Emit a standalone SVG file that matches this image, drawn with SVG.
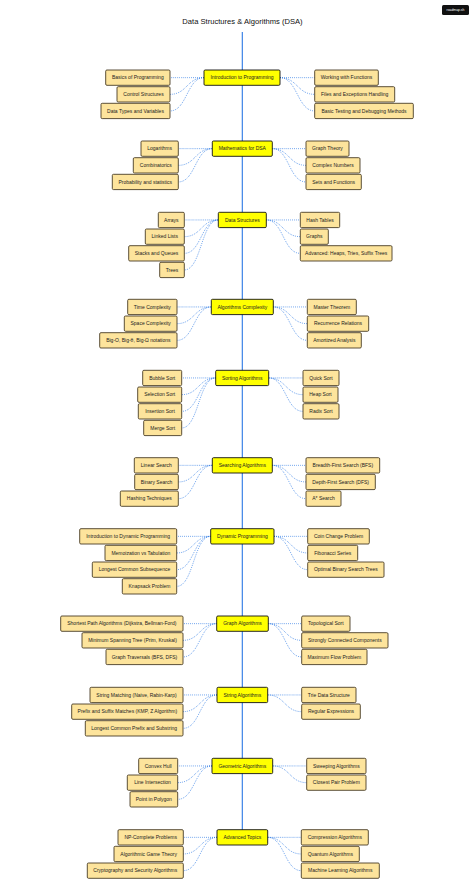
<svg xmlns="http://www.w3.org/2000/svg" width="474" height="890" viewBox="0 0 474 890">
<style>
text{font-family:"Liberation Sans",Arial,sans-serif;font-size:5px;fill:#222;text-anchor:middle}
.t{font-size:7.6px;fill:#111}
.b{font-size:3.4px;fill:#fff}
.m rect{fill:#ffff00;stroke:#111;stroke-width:0.9}
.s rect{fill:#fde49c;stroke:#4a3d26;stroke-width:0.9}
.c path{fill:none;stroke:#2b78e4;stroke-width:0.8;stroke-dasharray:0.8 1.2}
.spine{stroke:#2b78e4;stroke-width:1.1}
</style>
<rect x="0" y="0" width="474" height="890" fill="#fff"/>
<g id="title"><text class="t" x="242.5" y="23.5">Data Structures &amp; Algorithms (DSA)</text></g>
<g id="badge"><rect x="442" y="5" width="27" height="10" rx="1.5" fill="#111"/><text class="b" x="455.5" y="11.2">roadmap.sh</text></g>
<line class="spine" x1="242.3" y1="32" x2="242.3" y2="830"/>
<g id="connectors" class="c">
<!-- S1 -->
<path d="M204 77.65 C187 77.65 187 77.65 170 77.65"/>
<path d="M204 77.65 C187 77.65 187 94.35 170 94.35"/>
<path d="M204 77.65 C187 77.65 187 110.95 170 110.95"/>
<path d="M280 77.65 C297.35 77.65 297.35 77.65 314.7 77.65"/>
<path d="M280 77.65 C297.35 77.65 297.35 94.35 314.7 94.35"/>
<path d="M280 77.65 C297.35 77.65 297.35 110.95 314.7 110.95"/>
<!-- S2 -->
<path d="M212.3 148.65 C195.3 148.65 195.3 148.65 178.3 148.65"/>
<path d="M212.3 148.65 C195.3 148.65 195.3 165.35 178.3 165.35"/>
<path d="M212.3 148.65 C195.3 148.65 195.3 181.95 178.3 181.95"/>
<path d="M272.3 148.65 C289.15 148.65 289.15 148.65 306 148.65"/>
<path d="M272.3 148.65 C289.15 148.65 289.15 165.35 306 165.35"/>
<path d="M272.3 148.65 C289.15 148.65 289.15 181.95 306 181.95"/>
<!-- S3 -->
<path d="M218.3 219.95 C201.3 219.95 201.3 219.95 184.3 219.95"/>
<path d="M218.3 219.95 C201.3 219.95 201.3 236.65 184.3 236.65"/>
<path d="M218.3 219.95 C201.3 219.95 201.3 253.35 184.3 253.35"/>
<path d="M218.3 219.95 C201.3 219.95 201.3 269.95 184.3 269.95"/>
<path d="M266.3 219.95 C283.3 219.95 283.3 219.95 300.3 219.95"/>
<path d="M266.3 219.95 C283.3 219.95 283.3 236.65 300.3 236.65"/>
<path d="M266.3 219.95 C283.3 219.95 283.3 253.35 300.3 253.35"/>
<!-- S4 -->
<path d="M211.3 306.95 C194.15 306.95 194.15 306.95 177 306.95"/>
<path d="M211.3 306.95 C194.15 306.95 194.15 323.65 177 323.65"/>
<path d="M211.3 306.95 C194.15 306.95 194.15 340.35 177 340.35"/>
<path d="M273.3 306.95 C290.3 306.95 290.3 306.95 307.3 306.95"/>
<path d="M273.3 306.95 C290.3 306.95 290.3 323.65 307.3 323.65"/>
<path d="M273.3 306.95 C290.3 306.95 290.3 340.35 307.3 340.35"/>
<!-- S5 -->
<path d="M215.7 377.95 C198.7 377.95 198.7 377.95 181.7 377.95"/>
<path d="M215.7 377.95 C198.7 377.95 198.7 394.65 181.7 394.65"/>
<path d="M215.7 377.95 C198.7 377.95 198.7 411.35 181.7 411.35"/>
<path d="M215.7 377.95 C198.7 377.95 198.7 427.95 181.7 427.95"/>
<path d="M268.7 377.95 C285.85 377.95 285.85 377.95 303 377.95"/>
<path d="M268.7 377.95 C285.85 377.95 285.85 394.65 303 394.65"/>
<path d="M268.7 377.95 C285.85 377.95 285.85 411.35 303 411.35"/>
<!-- S6 -->
<path d="M212.3 465.35 C195.3 465.35 195.3 465.35 178.3 465.35"/>
<path d="M212.3 465.35 C195.3 465.35 195.3 481.95 178.3 481.95"/>
<path d="M212.3 465.35 C195.3 465.35 195.3 498.65 178.3 498.65"/>
<path d="M272.3 465.35 C289.15 465.35 289.15 465.35 306 465.35"/>
<path d="M272.3 465.35 C289.15 465.35 289.15 481.95 306 481.95"/>
<path d="M272.3 465.35 C289.15 465.35 289.15 498.65 306 498.65"/>
<!-- S7 -->
<path d="M210.7 536.35 C193.7 536.35 193.7 536.35 176.7 536.35"/>
<path d="M210.7 536.35 C193.7 536.35 193.7 552.95 176.7 552.95"/>
<path d="M210.7 536.35 C193.7 536.35 193.7 569.65 176.7 569.65"/>
<path d="M210.7 536.35 C193.7 536.35 193.7 586.35 176.7 586.35"/>
<path d="M274 536.35 C290.85 536.35 290.85 536.35 307.7 536.35"/>
<path d="M274 536.35 C290.85 536.35 290.85 552.95 307.7 552.95"/>
<path d="M274 536.35 C290.85 536.35 290.85 569.65 307.7 569.65"/>
<!-- S8 -->
<path d="M216.7 623.65 C199.85 623.65 199.85 623.65 183 623.65"/>
<path d="M216.7 623.65 C199.85 623.65 199.85 640.35 183 640.35"/>
<path d="M216.7 623.65 C199.85 623.65 199.85 656.95 183 656.95"/>
<path d="M268.3 623.65 C285 623.65 285 623.65 301.7 623.65"/>
<path d="M268.3 623.65 C285 623.65 285 640.35 301.7 640.35"/>
<path d="M268.3 623.65 C285 623.65 285 656.95 301.7 656.95"/>
<!-- S9 -->
<path d="M217 694.95 C200 694.95 200 694.95 183 694.95"/>
<path d="M217 694.95 C200 694.95 200 711.65 183 711.65"/>
<path d="M217 694.95 C200 694.95 200 728.35 183 728.35"/>
<path d="M267.7 694.95 C284.7 694.95 284.7 694.95 301.7 694.95"/>
<path d="M267.7 694.95 C284.7 694.95 284.7 711.65 301.7 711.65"/>
<!-- S10 -->
<path d="M212 765.95 C194.85 765.95 194.85 765.95 177.7 765.95"/>
<path d="M212 765.95 C194.85 765.95 194.85 782.65 177.7 782.65"/>
<path d="M212 765.95 C194.85 765.95 194.85 799.35 177.7 799.35"/>
<path d="M272.7 765.95 C289.7 765.95 289.7 765.95 306.7 765.95"/>
<path d="M272.7 765.95 C289.7 765.95 289.7 782.65 306.7 782.65"/>
<!-- S11 -->
<path d="M217 837.35 C200.15 837.35 200.15 837.35 183.3 837.35"/>
<path d="M217 837.35 C200.15 837.35 200.15 853.95 183.3 853.95"/>
<path d="M217 837.35 C200.15 837.35 200.15 870.65 183.3 870.65"/>
<path d="M267.7 837.35 C284.5 837.35 284.5 837.35 301.3 837.35"/>
<path d="M267.7 837.35 C284.5 837.35 284.5 853.95 301.3 853.95"/>
<path d="M267.7 837.35 C284.5 837.35 284.5 870.65 301.3 870.65"/>
</g>
<!-- Section 1 -->
<g id="intro-programming" class="m"><rect x="204" y="70" width="76" height="15.3" rx="1.2"/><text x="242" y="79.4">Introduction to Programming</text></g>
<g id="basics-programming" class="s"><rect x="105.7" y="70" width="64.3" height="15.3" rx="1.2"/><text x="137.85" y="79.4">Basics of Programming</text></g>
<g id="control-structures" class="s"><rect x="117" y="86.7" width="53" height="15.3" rx="1.2"/><text x="143.5" y="96.1">Control Structures</text></g>
<g id="data-types" class="s"><rect x="101" y="103.3" width="69" height="15.3" rx="1.2"/><text x="135.5" y="112.7">Data Types and Variables</text></g>
<g id="working-functions" class="s"><rect x="314.7" y="70" width="63.6" height="15.3" rx="1.2"/><text x="346.5" y="79.4">Working with Functions</text></g>
<g id="files-exceptions" class="s"><rect x="314.7" y="86.7" width="80" height="15.3" rx="1.2"/><text x="354.7" y="96.1">Files and Exceptions Handling</text></g>
<g id="testing-debugging" class="s"><rect x="314.7" y="103.3" width="98.6" height="15.3" rx="1.2"/><text x="364" y="112.7">Basic Testing and Debugging Methods</text></g>
<!-- Section 2 -->
<g id="math-dsa" class="m"><rect x="212.3" y="141" width="60" height="15.3" rx="1.2"/><text x="242.3" y="150.4">Mathematics for DSA</text></g>
<g id="logarithms" class="s"><rect x="141" y="141" width="37.3" height="15.3" rx="1.2"/><text x="159.65" y="150.4">Logarithms</text></g>
<g id="combinatorics" class="s"><rect x="133.3" y="157.7" width="45" height="15.3" rx="1.2"/><text x="155.8" y="167.1">Combinatorics</text></g>
<g id="probability" class="s"><rect x="112.3" y="174.3" width="66" height="15.3" rx="1.2"/><text x="145.3" y="183.7">Probability and statistics</text></g>
<g id="graph-theory" class="s"><rect x="306" y="141" width="43" height="15.3" rx="1.2"/><text x="327.5" y="150.4">Graph Theory</text></g>
<g id="complex-numbers" class="s"><rect x="306" y="157.7" width="54" height="15.3" rx="1.2"/><text x="333" y="167.1">Complex Numbers</text></g>
<g id="sets-functions" class="s"><rect x="306" y="174.3" width="55.3" height="15.3" rx="1.2"/><text x="333.65" y="183.7">Sets and Functions</text></g>
<!-- Section 3 -->
<g id="data-structures" class="m"><rect x="218.3" y="212.3" width="48" height="15.3" rx="1.2"/><text x="242.3" y="221.7">Data Structures</text></g>
<g id="arrays" class="s"><rect x="158.3" y="212.3" width="26" height="15.3" rx="1.2"/><text x="171.3" y="221.7">Arrays</text></g>
<g id="linked-lists" class="s"><rect x="145.3" y="229" width="39" height="15.3" rx="1.2"/><text x="164.8" y="238.4">Linked Lists</text></g>
<g id="stacks-queues" class="s"><rect x="128.7" y="245.7" width="55.6" height="15.3" rx="1.2"/><text x="156.5" y="255.1">Stacks and Queues</text></g>
<g id="trees" class="s"><rect x="159.7" y="262.3" width="24.6" height="15.3" rx="1.2"/><text x="172" y="271.7">Trees</text></g>
<g id="hash-tables" class="s"><rect x="300.3" y="212.3" width="39.4" height="15.3" rx="1.2"/><text x="320" y="221.7">Hash Tables</text></g>
<g id="graphs" class="s"><rect x="300.3" y="229" width="28" height="15.3" rx="1.2"/><text x="314.3" y="238.4">Graphs</text></g>
<g id="advanced-ds" class="s"><rect x="300.3" y="245.7" width="91.7" height="15.3" rx="1.2"/><text x="346.15" y="255.1">Advanced: Heaps, Tries, Suffix Trees</text></g>
<!-- Section 4 -->
<g id="algo-complexity" class="m"><rect x="211.3" y="299.3" width="62" height="15.3" rx="1.2"/><text x="242.3" y="308.7">Algorithms Complexity</text></g>
<g id="time-complexity" class="s"><rect x="127.7" y="299.3" width="49.3" height="15.3" rx="1.2"/><text x="152.35" y="308.7">Time Complexity</text></g>
<g id="space-complexity" class="s"><rect x="124.3" y="316" width="52.7" height="15.3" rx="1.2"/><text x="150.65" y="325.4">Space Complexity</text></g>
<g id="big-o" class="s"><rect x="99.7" y="332.7" width="77.3" height="15.3" rx="1.2"/><text x="138.35" y="342.1">Big-O, Big-θ, Big-Ω notations</text></g>
<g id="master-theorem" class="s"><rect x="307.3" y="299.3" width="49" height="15.3" rx="1.2"/><text x="331.8" y="308.7">Master Theorem</text></g>
<g id="recurrence" class="s"><rect x="307.3" y="316" width="61.4" height="15.3" rx="1.2"/><text x="338" y="325.4">Recurrence Relations</text></g>
<g id="amortized" class="s"><rect x="307.3" y="332.7" width="54" height="15.3" rx="1.2"/><text x="334.3" y="342.1">Amortized Analysis</text></g>
<!-- Section 5 -->
<g id="sorting" class="m"><rect x="215.7" y="370.3" width="53" height="15.3" rx="1.2"/><text x="242.2" y="379.7">Sorting Algorithms</text></g>
<g id="bubble-sort" class="s"><rect x="142.7" y="370.3" width="39" height="15.3" rx="1.2"/><text x="162.2" y="379.7">Bubble Sort</text></g>
<g id="selection-sort" class="s"><rect x="137.7" y="387" width="44" height="15.3" rx="1.2"/><text x="159.7" y="396.4">Selection Sort</text></g>
<g id="insertion-sort" class="s"><rect x="138.3" y="403.7" width="43.4" height="15.3" rx="1.2"/><text x="160" y="413.1">Insertion Sort</text></g>
<g id="merge-sort" class="s"><rect x="143.7" y="420.3" width="38" height="15.3" rx="1.2"/><text x="162.7" y="429.7">Merge Sort</text></g>
<g id="quick-sort" class="s"><rect x="303" y="370.3" width="36" height="15.3" rx="1.2"/><text x="321" y="379.7">Quick Sort</text></g>
<g id="heap-sort" class="s"><rect x="303" y="387" width="35" height="15.3" rx="1.2"/><text x="320.5" y="396.4">Heap Sort</text></g>
<g id="radix-sort" class="s"><rect x="303" y="403.7" width="36" height="15.3" rx="1.2"/><text x="321" y="413.1">Radix Sort</text></g>
<!-- Section 6 -->
<g id="searching" class="m"><rect x="212.3" y="457.7" width="60" height="15.3" rx="1.2"/><text x="242.3" y="467.1">Searching Algorithms</text></g>
<g id="linear-search" class="s"><rect x="134.3" y="457.7" width="44" height="15.3" rx="1.2"/><text x="156.3" y="467.1">Linear Search</text></g>
<g id="binary-search" class="s"><rect x="134.7" y="474.3" width="43.6" height="15.3" rx="1.2"/><text x="156.5" y="483.7">Binary Search</text></g>
<g id="hashing" class="s"><rect x="120.3" y="491" width="58" height="15.3" rx="1.2"/><text x="149.3" y="500.4">Hashing Techniques</text></g>
<g id="bfs" class="s"><rect x="306" y="457.7" width="73.7" height="15.3" rx="1.2"/><text x="342.85" y="467.1">Breadth-First Search (BFS)</text></g>
<g id="dfs" class="s"><rect x="306" y="474.3" width="69.3" height="15.3" rx="1.2"/><text x="340.65" y="483.7">Depth-First Search (DFS)</text></g>
<g id="a-star" class="s"><rect x="306" y="491" width="35" height="15.3" rx="1.2"/><text x="323.5" y="500.4">A* Search</text></g>
<!-- Section 7 -->
<g id="dynamic-programming" class="m"><rect x="210.7" y="528.7" width="63.3" height="15.3" rx="1.2"/><text x="242.35" y="538.1">Dynamic Programming</text></g>
<g id="intro-dp" class="s"><rect x="79.7" y="528.7" width="97" height="15.3" rx="1.2"/><text x="128.2" y="538.1">Introduction to Dynamic Programming</text></g>
<g id="memoization" class="s"><rect x="105" y="545.3" width="71.7" height="15.3" rx="1.2"/><text x="140.85" y="554.7">Memoization vs Tabulation</text></g>
<g id="lcs" class="s"><rect x="92.3" y="562" width="84.4" height="15.3" rx="1.2"/><text x="134.5" y="571.4">Longest Common Subsequence</text></g>
<g id="knapsack" class="s"><rect x="122.3" y="578.7" width="54.4" height="15.3" rx="1.2"/><text x="149.5" y="588.1">Knapsack Problem</text></g>
<g id="coin-change" class="s"><rect x="307.7" y="528.7" width="61.6" height="15.3" rx="1.2"/><text x="338.5" y="538.1">Coin Change Problem</text></g>
<g id="fibonacci" class="s"><rect x="307.7" y="545.3" width="50" height="15.3" rx="1.2"/><text x="332.7" y="554.7">Fibonacci Series</text></g>
<g id="optimal-bst" class="s"><rect x="307.7" y="562" width="76.3" height="15.3" rx="1.2"/><text x="345.85" y="571.4">Optimal Binary Search Trees</text></g>
<!-- Section 8 -->
<g id="graph-algorithms" class="m"><rect x="216.7" y="616" width="51.6" height="15.3" rx="1.2"/><text x="242.5" y="625.4">Graph Algorithms</text></g>
<g id="shortest-path" class="s"><rect x="60.7" y="616" width="122.3" height="15.3" rx="1.2"/><text x="121.85" y="625.4">Shortest Path Algorithms (Dijkstra, Bellman-Ford)</text></g>
<g id="mst" class="s"><rect x="82" y="632.7" width="101" height="15.3" rx="1.2"/><text x="132.5" y="642.1">Minimum Spanning Tree (Prim, Kruskal)</text></g>
<g id="graph-traversals" class="s"><rect x="106" y="649.3" width="77" height="15.3" rx="1.2"/><text x="144.5" y="658.7">Graph Traversals (BFS, DFS)</text></g>
<g id="topological-sort" class="s"><rect x="301.7" y="616" width="48.3" height="15.3" rx="1.2"/><text x="325.85" y="625.4">Topological Sort</text></g>
<g id="scc" class="s"><rect x="301.7" y="632.7" width="86.3" height="15.3" rx="1.2"/><text x="344.85" y="642.1">Strongly Connected Components</text></g>
<g id="max-flow" class="s"><rect x="301.7" y="649.3" width="65.3" height="15.3" rx="1.2"/><text x="334.35" y="658.7">Maximum Flow Problem</text></g>
<!-- Section 9 -->
<g id="string-algorithms" class="m"><rect x="217" y="687.3" width="50.7" height="15.3" rx="1.2"/><text x="242.35" y="696.7">String Algorithms</text></g>
<g id="string-matching" class="s"><rect x="90" y="687.3" width="93" height="15.3" rx="1.2"/><text x="136.5" y="696.7">String Matching (Naive, Rabin-Karp)</text></g>
<g id="prefix-suffix" class="s"><rect x="71.7" y="704" width="111.3" height="15.3" rx="1.2"/><text x="127.35" y="713.4">Prefix and Suffix Matches (KMP, Z Algorithm)</text></g>
<g id="lcp" class="s"><rect x="85.3" y="720.7" width="97.7" height="15.3" rx="1.2"/><text x="134.15" y="730.1">Longest Common Prefix and Substring</text></g>
<g id="trie" class="s"><rect x="301.7" y="687.3" width="54.3" height="15.3" rx="1.2"/><text x="328.85" y="696.7">Trie Data Structure</text></g>
<g id="regex" class="s"><rect x="301.7" y="704" width="58.6" height="15.3" rx="1.2"/><text x="331" y="713.4">Regular Expressions</text></g>
<!-- Section 10 -->
<g id="geometric" class="m"><rect x="212" y="758.3" width="60.7" height="15.3" rx="1.2"/><text x="242.35" y="767.7">Geometric Algorithms</text></g>
<g id="convex-hull" class="s"><rect x="138.7" y="758.3" width="39" height="15.3" rx="1.2"/><text x="158.2" y="767.7">Convex Hull</text></g>
<g id="line-intersection" class="s"><rect x="127.3" y="775" width="50.4" height="15.3" rx="1.2"/><text x="152.5" y="784.4">Line Intersection</text></g>
<g id="point-polygon" class="s"><rect x="130" y="791.7" width="47.7" height="15.3" rx="1.2"/><text x="153.85" y="801.1">Point in Polygon</text></g>
<g id="sweeping" class="s"><rect x="306.7" y="758.3" width="59.3" height="15.3" rx="1.2"/><text x="336.35" y="767.7">Sweeping Algorithms</text></g>
<g id="closest-pair" class="s"><rect x="306.7" y="775" width="59.3" height="15.3" rx="1.2"/><text x="336.35" y="784.4">Closest Pair Problem</text></g>
<!-- Section 11 -->
<g id="advanced-topics" class="m"><rect x="217" y="829.7" width="50.7" height="15.3" rx="1.2"/><text x="242.35" y="839.1">Advanced Topics</text></g>
<g id="np-complete" class="s"><rect x="118" y="829.7" width="65.3" height="15.3" rx="1.2"/><text x="150.65" y="839.1">NP-Complete Problems</text></g>
<g id="game-theory" class="s"><rect x="114" y="846.3" width="69.3" height="15.3" rx="1.2"/><text x="148.65" y="855.7">Algorithmic Game Theory</text></g>
<g id="cryptography" class="s"><rect x="87.3" y="863" width="96" height="15.3" rx="1.2"/><text x="135.3" y="872.4">Cryptography and Security Algorithms</text></g>
<g id="compression" class="s"><rect x="301.3" y="829.7" width="67" height="15.3" rx="1.2"/><text x="334.8" y="839.1">Compression Algorithms</text></g>
<g id="quantum" class="s"><rect x="301.3" y="846.3" width="58" height="15.3" rx="1.2"/><text x="330.3" y="855.7">Quantum Algorithms</text></g>
<g id="ml-algorithms" class="s"><rect x="301.3" y="863" width="78" height="15.3" rx="1.2"/><text x="340.3" y="872.4">Machine Learning Algorithms</text></g>
</svg>
